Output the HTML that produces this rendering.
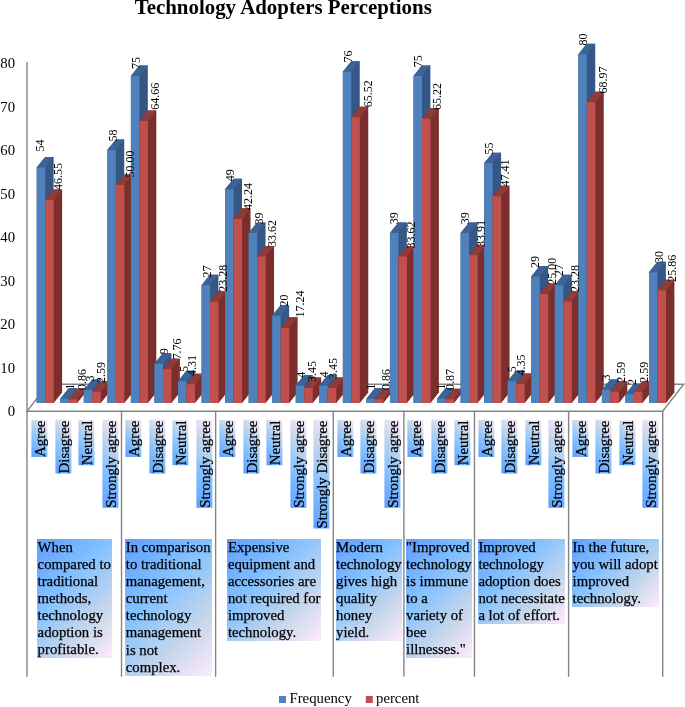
<!DOCTYPE html>
<html><head><meta charset="utf-8"><title>Technology Adopters Perceptions</title>
<style>
html,body{margin:0;padding:0;background:#fff;}
#c{position:relative;width:685px;height:707px;overflow:hidden;background:#fff;font-family:"Liberation Serif",serif;color:#000;}
.tb,.cl{-webkit-text-stroke:0.25px #000;}
.cl span{position:relative;left:-0.5px;}
#c svg{position:absolute;left:0;top:0;}
.cl{position:absolute;top:419.9px;font-size:14.9px;line-height:16.4px;white-space:nowrap;writing-mode:vertical-rl;transform:rotate(180deg);padding:0.3px 0;
background:linear-gradient(225deg,#5e9eff 0%,#85c2ff 39%,#c4d6eb 70%,#ffebfa 100%);}
.tb{position:absolute;top:539px;font-size:14.75px;line-height:17px;padding:0 0 0 0.6px;box-sizing:border-box;white-space:nowrap;
background:linear-gradient(135deg,#5e9eff 0%,#85c2ff 39%,#c4d6eb 70%,#ffebfa 100%);}
</style></head><body>
<div id="c">
<svg width="685" height="707" viewBox="0 0 685 707">
<polygon points="27,411.2 662.71,411.2 683.71,384.2 48,384.2" fill="none" stroke="#858585" stroke-width="1.4" stroke-linejoin="miter"/>
<line x1="27.0" y1="62" x2="27.0" y2="411.2" stroke="#858585" stroke-width="1.4"/>
<line x1="27" y1="411.2" x2="27" y2="676.8" stroke="#858585" stroke-width="1.4"/>
<line x1="121.52" y1="411.2" x2="121.52" y2="676.8" stroke="#858585" stroke-width="1.4"/>
<line x1="215.64" y1="411.2" x2="215.64" y2="676.8" stroke="#858585" stroke-width="1.4"/>
<line x1="333.29" y1="411.2" x2="333.29" y2="676.8" stroke="#858585" stroke-width="1.4"/>
<line x1="403.88" y1="411.2" x2="403.88" y2="676.8" stroke="#858585" stroke-width="1.4"/>
<line x1="474.47" y1="411.2" x2="474.47" y2="676.8" stroke="#858585" stroke-width="1.4"/>
<line x1="568.59" y1="411.2" x2="568.59" y2="676.8" stroke="#858585" stroke-width="1.4"/>
<line x1="662.71" y1="411.2" x2="662.71" y2="676.8" stroke="#858585" stroke-width="1.4"/>
<polygon points="36.7,167.56 45.1,157.06 53.6,157.06 53.6,392.5 45.2,403 36.7,403" fill="#345785"/>
<polygon points="36.7,167.56 45.1,157.06 53.6,157.06 45.2,167.56" fill="#3c6396"/>
<rect x="36.7" y="167.56" width="8.5" height="235.44" fill="#4f81bd"/>
<polygon points="45.2,200.04 53.6,189.54 62.1,189.54 62.1,392.5 53.7,403 45.2,403" fill="#7b2e2c"/>
<polygon points="45.2,200.04 53.6,189.54 62.1,189.54 53.7,200.04" fill="#8f3b39"/>
<rect x="45.2" y="200.04" width="8.5" height="202.96" fill="#c0504d"/>
<polygon points="60.25,398.64 68.65,388.14 77.15,388.14 77.15,392.5 68.75,403 60.25,403" fill="#345785"/>
<polygon points="60.25,398.64 68.65,388.14 77.15,388.14 68.75,398.64" fill="#3c6396"/>
<rect x="60.25" y="398.64" width="8.5" height="4.36" fill="#4f81bd"/>
<polygon points="68.75,399.25 77.15,388.75 85.65,388.75 85.65,392.5 77.25,403 68.75,403" fill="#7b2e2c"/>
<polygon points="68.75,399.25 77.15,388.75 85.65,388.75 77.25,399.25" fill="#8f3b39"/>
<rect x="68.75" y="399.25" width="8.5" height="3.75" fill="#c0504d"/>
<polygon points="83.8,389.92 92.2,379.42 100.7,379.42 100.7,392.5 92.3,403 83.8,403" fill="#345785"/>
<polygon points="83.8,389.92 92.2,379.42 100.7,379.42 92.3,389.92" fill="#3c6396"/>
<rect x="83.8" y="389.92" width="8.5" height="13.08" fill="#4f81bd"/>
<polygon points="92.3,391.71 100.7,381.21 109.2,381.21 109.2,392.5 100.8,403 92.3,403" fill="#7b2e2c"/>
<polygon points="92.3,391.71 100.7,381.21 109.2,381.21 100.8,391.71" fill="#8f3b39"/>
<rect x="92.3" y="391.71" width="8.5" height="11.29" fill="#c0504d"/>
<polygon points="107.35,150.12 115.75,139.62 124.25,139.62 124.25,392.5 115.85,403 107.35,403" fill="#345785"/>
<polygon points="107.35,150.12 115.75,139.62 124.25,139.62 115.85,150.12" fill="#3c6396"/>
<rect x="107.35" y="150.12" width="8.5" height="252.88" fill="#4f81bd"/>
<polygon points="115.85,185 124.25,174.5 132.75,174.5 132.75,392.5 124.35,403 115.85,403" fill="#7b2e2c"/>
<polygon points="115.85,185 124.25,174.5 132.75,174.5 124.35,185" fill="#8f3b39"/>
<rect x="115.85" y="185" width="8.5" height="218" fill="#c0504d"/>
<polygon points="130.9,76 139.3,65.5 147.8,65.5 147.8,392.5 139.4,403 130.9,403" fill="#345785"/>
<polygon points="130.9,76 139.3,65.5 147.8,65.5 139.4,76" fill="#3c6396"/>
<rect x="130.9" y="76" width="8.5" height="327" fill="#4f81bd"/>
<polygon points="139.4,121.08 147.8,110.58 156.3,110.58 156.3,392.5 147.9,403 139.4,403" fill="#7b2e2c"/>
<polygon points="139.4,121.08 147.8,110.58 156.3,110.58 147.9,121.08" fill="#8f3b39"/>
<rect x="139.4" y="121.08" width="8.5" height="281.92" fill="#c0504d"/>
<polygon points="154.45,363.76 162.85,353.26 171.35,353.26 171.35,392.5 162.95,403 154.45,403" fill="#345785"/>
<polygon points="154.45,363.76 162.85,353.26 171.35,353.26 162.95,363.76" fill="#3c6396"/>
<rect x="154.45" y="363.76" width="8.5" height="39.24" fill="#4f81bd"/>
<polygon points="162.95,369.17 171.35,358.67 179.85,358.67 179.85,392.5 171.45,403 162.95,403" fill="#7b2e2c"/>
<polygon points="162.95,369.17 171.35,358.67 179.85,358.67 171.45,369.17" fill="#8f3b39"/>
<rect x="162.95" y="369.17" width="8.5" height="33.83" fill="#c0504d"/>
<polygon points="178,381.2 186.4,370.7 194.9,370.7 194.9,392.5 186.5,403 178,403" fill="#345785"/>
<polygon points="178,381.2 186.4,370.7 194.9,370.7 186.5,381.2" fill="#3c6396"/>
<rect x="178" y="381.2" width="8.5" height="21.8" fill="#4f81bd"/>
<polygon points="186.5,384.21 194.9,373.71 203.4,373.71 203.4,392.5 195,403 186.5,403" fill="#7b2e2c"/>
<polygon points="186.5,384.21 194.9,373.71 203.4,373.71 195,384.21" fill="#8f3b39"/>
<rect x="186.5" y="384.21" width="8.5" height="18.79" fill="#c0504d"/>
<polygon points="201.55,285.28 209.95,274.78 218.45,274.78 218.45,392.5 210.05,403 201.55,403" fill="#345785"/>
<polygon points="201.55,285.28 209.95,274.78 218.45,274.78 210.05,285.28" fill="#3c6396"/>
<rect x="201.55" y="285.28" width="8.5" height="117.72" fill="#4f81bd"/>
<polygon points="210.05,301.5 218.45,291 226.95,291 226.95,392.5 218.55,403 210.05,403" fill="#7b2e2c"/>
<polygon points="210.05,301.5 218.45,291 226.95,291 218.55,301.5" fill="#8f3b39"/>
<rect x="210.05" y="301.5" width="8.5" height="101.5" fill="#c0504d"/>
<polygon points="225.1,189.36 233.5,178.86 242,178.86 242,392.5 233.6,403 225.1,403" fill="#345785"/>
<polygon points="225.1,189.36 233.5,178.86 242,178.86 233.6,189.36" fill="#3c6396"/>
<rect x="225.1" y="189.36" width="8.5" height="213.64" fill="#4f81bd"/>
<polygon points="233.6,218.83 242,208.33 250.5,208.33 250.5,392.5 242.1,403 233.6,403" fill="#7b2e2c"/>
<polygon points="233.6,218.83 242,208.33 250.5,208.33 242.1,218.83" fill="#8f3b39"/>
<rect x="233.6" y="218.83" width="8.5" height="184.17" fill="#c0504d"/>
<polygon points="248.65,232.96 257.05,222.46 265.55,222.46 265.55,392.5 257.15,403 248.65,403" fill="#345785"/>
<polygon points="248.65,232.96 257.05,222.46 265.55,222.46 257.15,232.96" fill="#3c6396"/>
<rect x="248.65" y="232.96" width="8.5" height="170.04" fill="#4f81bd"/>
<polygon points="257.15,256.42 265.55,245.92 274.05,245.92 274.05,392.5 265.65,403 257.15,403" fill="#7b2e2c"/>
<polygon points="257.15,256.42 265.55,245.92 274.05,245.92 265.65,256.42" fill="#8f3b39"/>
<rect x="257.15" y="256.42" width="8.5" height="146.58" fill="#c0504d"/>
<polygon points="272.2,315.8 280.6,305.3 289.1,305.3 289.1,392.5 280.7,403 272.2,403" fill="#345785"/>
<polygon points="272.2,315.8 280.6,305.3 289.1,305.3 280.7,315.8" fill="#3c6396"/>
<rect x="272.2" y="315.8" width="8.5" height="87.2" fill="#4f81bd"/>
<polygon points="280.7,327.83 289.1,317.33 297.6,317.33 297.6,392.5 289.2,403 280.7,403" fill="#7b2e2c"/>
<polygon points="280.7,327.83 289.1,317.33 297.6,317.33 289.2,327.83" fill="#8f3b39"/>
<rect x="280.7" y="327.83" width="8.5" height="75.17" fill="#c0504d"/>
<polygon points="295.75,385.56 304.15,375.06 312.65,375.06 312.65,392.5 304.25,403 295.75,403" fill="#345785"/>
<polygon points="295.75,385.56 304.15,375.06 312.65,375.06 304.25,385.56" fill="#3c6396"/>
<rect x="295.75" y="385.56" width="8.5" height="17.44" fill="#4f81bd"/>
<polygon points="304.25,387.96 312.65,377.46 321.15,377.46 321.15,392.5 312.75,403 304.25,403" fill="#7b2e2c"/>
<polygon points="304.25,387.96 312.65,377.46 321.15,377.46 312.75,387.96" fill="#8f3b39"/>
<rect x="304.25" y="387.96" width="8.5" height="15.04" fill="#c0504d"/>
<polygon points="319.3,385.56 327.7,375.06 336.2,375.06 336.2,392.5 327.8,403 319.3,403" fill="#345785"/>
<polygon points="319.3,385.56 327.7,375.06 336.2,375.06 327.8,385.56" fill="#3c6396"/>
<rect x="319.3" y="385.56" width="8.5" height="17.44" fill="#4f81bd"/>
<polygon points="327.8,387.96 336.2,377.46 344.7,377.46 344.7,392.5 336.3,403 327.8,403" fill="#7b2e2c"/>
<polygon points="327.8,387.96 336.2,377.46 344.7,377.46 336.3,387.96" fill="#8f3b39"/>
<rect x="327.8" y="387.96" width="8.5" height="15.04" fill="#c0504d"/>
<polygon points="342.85,71.64 351.25,61.14 359.75,61.14 359.75,392.5 351.35,403 342.85,403" fill="#345785"/>
<polygon points="342.85,71.64 351.25,61.14 359.75,61.14 351.35,71.64" fill="#3c6396"/>
<rect x="342.85" y="71.64" width="8.5" height="331.36" fill="#4f81bd"/>
<polygon points="351.35,117.33 359.75,106.83 368.25,106.83 368.25,392.5 359.85,403 351.35,403" fill="#7b2e2c"/>
<polygon points="351.35,117.33 359.75,106.83 368.25,106.83 359.85,117.33" fill="#8f3b39"/>
<rect x="351.35" y="117.33" width="8.5" height="285.67" fill="#c0504d"/>
<polygon points="366.4,398.64 374.8,388.14 383.3,388.14 383.3,392.5 374.9,403 366.4,403" fill="#345785"/>
<polygon points="366.4,398.64 374.8,388.14 383.3,388.14 374.9,398.64" fill="#3c6396"/>
<rect x="366.4" y="398.64" width="8.5" height="4.36" fill="#4f81bd"/>
<polygon points="374.9,399.25 383.3,388.75 391.8,388.75 391.8,392.5 383.4,403 374.9,403" fill="#7b2e2c"/>
<polygon points="374.9,399.25 383.3,388.75 391.8,388.75 383.4,399.25" fill="#8f3b39"/>
<rect x="374.9" y="399.25" width="8.5" height="3.75" fill="#c0504d"/>
<polygon points="389.95,232.96 398.35,222.46 406.85,222.46 406.85,392.5 398.45,403 389.95,403" fill="#345785"/>
<polygon points="389.95,232.96 398.35,222.46 406.85,222.46 398.45,232.96" fill="#3c6396"/>
<rect x="389.95" y="232.96" width="8.5" height="170.04" fill="#4f81bd"/>
<polygon points="398.45,256.42 406.85,245.92 415.35,245.92 415.35,392.5 406.95,403 398.45,403" fill="#7b2e2c"/>
<polygon points="398.45,256.42 406.85,245.92 415.35,245.92 406.95,256.42" fill="#8f3b39"/>
<rect x="398.45" y="256.42" width="8.5" height="146.58" fill="#c0504d"/>
<polygon points="413.5,76 421.9,65.5 430.4,65.5 430.4,392.5 422,403 413.5,403" fill="#345785"/>
<polygon points="413.5,76 421.9,65.5 430.4,65.5 422,76" fill="#3c6396"/>
<rect x="413.5" y="76" width="8.5" height="327" fill="#4f81bd"/>
<polygon points="422,118.64 430.4,108.14 438.9,108.14 438.9,392.5 430.5,403 422,403" fill="#7b2e2c"/>
<polygon points="422,118.64 430.4,108.14 438.9,108.14 430.5,118.64" fill="#8f3b39"/>
<rect x="422" y="118.64" width="8.5" height="284.36" fill="#c0504d"/>
<polygon points="437.05,398.64 445.45,388.14 453.95,388.14 453.95,392.5 445.55,403 437.05,403" fill="#345785"/>
<polygon points="437.05,398.64 445.45,388.14 453.95,388.14 445.55,398.64" fill="#3c6396"/>
<rect x="437.05" y="398.64" width="8.5" height="4.36" fill="#4f81bd"/>
<polygon points="445.55,399.21 453.95,388.71 462.45,388.71 462.45,392.5 454.05,403 445.55,403" fill="#7b2e2c"/>
<polygon points="445.55,399.21 453.95,388.71 462.45,388.71 454.05,399.21" fill="#8f3b39"/>
<rect x="445.55" y="399.21" width="8.5" height="3.79" fill="#c0504d"/>
<polygon points="460.6,232.96 469,222.46 477.5,222.46 477.5,392.5 469.1,403 460.6,403" fill="#345785"/>
<polygon points="460.6,232.96 469,222.46 477.5,222.46 469.1,232.96" fill="#3c6396"/>
<rect x="460.6" y="232.96" width="8.5" height="170.04" fill="#4f81bd"/>
<polygon points="469.1,255.15 477.5,244.65 486,244.65 486,392.5 477.6,403 469.1,403" fill="#7b2e2c"/>
<polygon points="469.1,255.15 477.5,244.65 486,244.65 477.6,255.15" fill="#8f3b39"/>
<rect x="469.1" y="255.15" width="8.5" height="147.85" fill="#c0504d"/>
<polygon points="484.15,163.2 492.55,152.7 501.05,152.7 501.05,392.5 492.65,403 484.15,403" fill="#345785"/>
<polygon points="484.15,163.2 492.55,152.7 501.05,152.7 492.65,163.2" fill="#3c6396"/>
<rect x="484.15" y="163.2" width="8.5" height="239.8" fill="#4f81bd"/>
<polygon points="492.65,196.29 501.05,185.79 509.55,185.79 509.55,392.5 501.15,403 492.65,403" fill="#7b2e2c"/>
<polygon points="492.65,196.29 501.05,185.79 509.55,185.79 501.15,196.29" fill="#8f3b39"/>
<rect x="492.65" y="196.29" width="8.5" height="206.71" fill="#c0504d"/>
<polygon points="507.7,381.2 516.1,370.7 524.6,370.7 524.6,392.5 516.2,403 507.7,403" fill="#345785"/>
<polygon points="507.7,381.2 516.1,370.7 524.6,370.7 516.2,381.2" fill="#3c6396"/>
<rect x="507.7" y="381.2" width="8.5" height="21.8" fill="#4f81bd"/>
<polygon points="516.2,384.03 524.6,373.53 533.1,373.53 533.1,392.5 524.7,403 516.2,403" fill="#7b2e2c"/>
<polygon points="516.2,384.03 524.6,373.53 533.1,373.53 524.7,384.03" fill="#8f3b39"/>
<rect x="516.2" y="384.03" width="8.5" height="18.97" fill="#c0504d"/>
<polygon points="531.25,276.56 539.65,266.06 548.15,266.06 548.15,392.5 539.75,403 531.25,403" fill="#345785"/>
<polygon points="531.25,276.56 539.65,266.06 548.15,266.06 539.75,276.56" fill="#3c6396"/>
<rect x="531.25" y="276.56" width="8.5" height="126.44" fill="#4f81bd"/>
<polygon points="539.75,294 548.15,283.5 556.65,283.5 556.65,392.5 548.25,403 539.75,403" fill="#7b2e2c"/>
<polygon points="539.75,294 548.15,283.5 556.65,283.5 548.25,294" fill="#8f3b39"/>
<rect x="539.75" y="294" width="8.5" height="109" fill="#c0504d"/>
<polygon points="554.8,285.28 563.2,274.78 571.7,274.78 571.7,392.5 563.3,403 554.8,403" fill="#345785"/>
<polygon points="554.8,285.28 563.2,274.78 571.7,274.78 563.3,285.28" fill="#3c6396"/>
<rect x="554.8" y="285.28" width="8.5" height="117.72" fill="#4f81bd"/>
<polygon points="563.3,301.5 571.7,291 580.2,291 580.2,392.5 571.8,403 563.3,403" fill="#7b2e2c"/>
<polygon points="563.3,301.5 571.7,291 580.2,291 571.8,301.5" fill="#8f3b39"/>
<rect x="563.3" y="301.5" width="8.5" height="101.5" fill="#c0504d"/>
<polygon points="578.35,54.2 586.75,43.7 595.25,43.7 595.25,392.5 586.85,403 578.35,403" fill="#345785"/>
<polygon points="578.35,54.2 586.75,43.7 595.25,43.7 586.85,54.2" fill="#3c6396"/>
<rect x="578.35" y="54.2" width="8.5" height="348.8" fill="#4f81bd"/>
<polygon points="586.85,102.29 595.25,91.79 603.75,91.79 603.75,392.5 595.35,403 586.85,403" fill="#7b2e2c"/>
<polygon points="586.85,102.29 595.25,91.79 603.75,91.79 595.35,102.29" fill="#8f3b39"/>
<rect x="586.85" y="102.29" width="8.5" height="300.71" fill="#c0504d"/>
<polygon points="601.9,389.92 610.3,379.42 618.8,379.42 618.8,392.5 610.4,403 601.9,403" fill="#345785"/>
<polygon points="601.9,389.92 610.3,379.42 618.8,379.42 610.4,389.92" fill="#3c6396"/>
<rect x="601.9" y="389.92" width="8.5" height="13.08" fill="#4f81bd"/>
<polygon points="610.4,391.71 618.8,381.21 627.3,381.21 627.3,392.5 618.9,403 610.4,403" fill="#7b2e2c"/>
<polygon points="610.4,391.71 618.8,381.21 627.3,381.21 618.9,391.71" fill="#8f3b39"/>
<rect x="610.4" y="391.71" width="8.5" height="11.29" fill="#c0504d"/>
<polygon points="625.45,394.28 633.85,383.78 642.35,383.78 642.35,392.5 633.95,403 625.45,403" fill="#345785"/>
<polygon points="625.45,394.28 633.85,383.78 642.35,383.78 633.95,394.28" fill="#3c6396"/>
<rect x="625.45" y="394.28" width="8.5" height="8.72" fill="#4f81bd"/>
<polygon points="633.95,391.71 642.35,381.21 650.85,381.21 650.85,392.5 642.45,403 633.95,403" fill="#7b2e2c"/>
<polygon points="633.95,391.71 642.35,381.21 650.85,381.21 642.45,391.71" fill="#8f3b39"/>
<rect x="633.95" y="391.71" width="8.5" height="11.29" fill="#c0504d"/>
<polygon points="649,272.2 657.4,261.7 665.9,261.7 665.9,392.5 657.5,403 649,403" fill="#345785"/>
<polygon points="649,272.2 657.4,261.7 665.9,261.7 657.5,272.2" fill="#3c6396"/>
<rect x="649" y="272.2" width="8.5" height="130.8" fill="#4f81bd"/>
<polygon points="657.5,290.25 665.9,279.75 674.4,279.75 674.4,392.5 666,403 657.5,403" fill="#7b2e2c"/>
<polygon points="657.5,290.25 665.9,279.75 674.4,279.75 666,290.25" fill="#8f3b39"/>
<rect x="657.5" y="290.25" width="8.5" height="112.75" fill="#c0504d"/>
<g font-family="Liberation Serif, serif" font-size="12" fill="#000">
<text transform="translate(43.65,151.4) rotate(-90)">54</text>
<text transform="translate(61.85,189.9) rotate(-90)">46.55</text>
<text transform="translate(73.75,389.8) rotate(-90)">1</text>
<text transform="translate(85.75,390.1) rotate(-90)">0.86</text>
<text transform="translate(93.55,381.5) rotate(-90)">3</text>
<text transform="translate(104.65,383) rotate(-90)">2.59</text>
<text transform="translate(116.75,141.4) rotate(-90)">58</text>
<text transform="translate(134.05,177.6) rotate(-90)">50.00</text>
<text transform="translate(140.45,69) rotate(-90)">75</text>
<text transform="translate(158.95,109.7) rotate(-90)">64.66</text>
<text transform="translate(167.95,354.2) rotate(-90)">9</text>
<text transform="translate(181.05,359.6) rotate(-90)">7.76</text>
<text transform="translate(187.55,372) rotate(-90)">5</text>
<text transform="translate(195.95,376) rotate(-90)">4.31</text>
<text transform="translate(210.95,277.6) rotate(-90)">27</text>
<text transform="translate(227.45,291.8) rotate(-90)">23.28</text>
<text transform="translate(233.65,181.3) rotate(-90)">49</text>
<text transform="translate(252.05,210) rotate(-90)">42.24</text>
<text transform="translate(263.15,224.6) rotate(-90)">39</text>
<text transform="translate(276.45,247.1) rotate(-90)">33.62</text>
<text transform="translate(287.85,306.4) rotate(-90)">20</text>
<text transform="translate(304.45,317.5) rotate(-90)">17.24</text>
<text transform="translate(304.65,377.7) rotate(-90)">4</text>
<text transform="translate(316.15,381.9) rotate(-90)">3.45</text>
<text transform="translate(328.05,377.5) rotate(-90)">4</text>
<text transform="translate(336.55,378.9) rotate(-90)">3.45</text>
<text transform="translate(351.55,62.6) rotate(-90)">76</text>
<text transform="translate(372.05,107.2) rotate(-90)">65.52</text>
<text transform="translate(375.15,389.8) rotate(-90)">1</text>
<text transform="translate(389.55,390) rotate(-90)">0.86</text>
<text transform="translate(398.25,224.3) rotate(-90)">39</text>
<text transform="translate(414.85,248.5) rotate(-90)">33.62</text>
<text transform="translate(421.85,67.3) rotate(-90)">75</text>
<text transform="translate(441.45,109.9) rotate(-90)">65.22</text>
<text transform="translate(445.15,389.8) rotate(-90)">1</text>
<text transform="translate(454.05,390) rotate(-90)">0.87</text>
<text transform="translate(468.95,224.3) rotate(-90)">39</text>
<text transform="translate(485.05,247) rotate(-90)">33.91</text>
<text transform="translate(492.65,154.4) rotate(-90)">55</text>
<text transform="translate(509.05,186.5) rotate(-90)">47.41</text>
<text transform="translate(515.85,372.2) rotate(-90)">5</text>
<text transform="translate(525.25,375.6) rotate(-90)">4.35</text>
<text transform="translate(539.35,268) rotate(-90)">29</text>
<text transform="translate(555.55,284.7) rotate(-90)">25.00</text>
<text transform="translate(562.55,276.3) rotate(-90)">27</text>
<text transform="translate(578.85,292.1) rotate(-90)">23.28</text>
<text transform="translate(586.75,45.6) rotate(-90)">80</text>
<text transform="translate(607.05,93.4) rotate(-90)">68.97</text>
<text transform="translate(610.15,380.6) rotate(-90)">3</text>
<text transform="translate(624.55,382.8) rotate(-90)">2.59</text>
<text transform="translate(635.75,384.9) rotate(-90)">2</text>
<text transform="translate(648.05,382.7) rotate(-90)">2.59</text>
<text transform="translate(663.05,263) rotate(-90)">30</text>
<text transform="translate(676.45,281.7) rotate(-90)">25.86</text>
</g>
<g font-family="Liberation Serif, serif" font-size="14.75" fill="#000" text-anchor="end">
<text x="15" y="416.3">0</text>
<text x="15" y="372.8">10</text>
<text x="15" y="329.3">20</text>
<text x="15" y="285.8">30</text>
<text x="15" y="242.3">40</text>
<text x="15" y="198.8">50</text>
<text x="15" y="155.3">60</text>
<text x="15" y="111.8">70</text>
<text x="15" y="68.3">80</text>
</g>
<text x="134.7" y="14" font-family="Liberation Serif, serif" font-weight="bold" font-size="20.9" fill="#000">Technology Adopters Perceptions</text>
<rect x="279" y="696" width="7" height="7" fill="#4f81bd"/>
<text x="289.5" y="703.2" font-family="Liberation Serif, serif" font-size="14.75" fill="#000">Frequency</text>
<rect x="365.8" y="696" width="7" height="7" fill="#c0504d"/>
<text x="376" y="703.2" font-family="Liberation Serif, serif" font-size="14.75" fill="#000">percent</text>
</svg>
<div class="tb" style="left:37px;width:74.8px">When<br>compared to<br>traditional<br>methods,<br>technology<br>adoption is<br>profitable.</div>
<div class="tb" style="left:125.2px;width:86.6px;line-height:17.1px">In comparison<br>to traditional<br>management,<br>current<br>technology<br>management<br>is not<br>complex.</div>
<div class="tb" style="left:227.3px;width:94px">Expensive<br>equipment and<br>accessories are<br>not required for<br>improved<br>technology.</div>
<div class="tb" style="left:335.5px;width:66.1px">Modern<br>technology<br>gives high<br>quality<br>honey<br>yield.</div>
<div class="tb" style="left:405.5px;width:66.8px">"Improved<br>technology<br>is immune<br>to a<br>variety of<br>bee<br>illnesses."</div>
<div class="tb" style="left:477.8px;width:87px">Improved<br>technology<br>adoption does<br>not necessitate<br>a lot of effort.</div>
<div class="tb" style="left:572px;width:87px">In the future,<br>you will adopt<br>improved<br>technology.</div>
<div class="cl" style="left:31px"><span>Agree</span></div>
<div class="cl" style="left:54.51px"><span>Disagree</span></div>
<div class="cl" style="left:78.02px"><span>Neutral</span></div>
<div class="cl" style="left:101.53px"><span>Strongly agree</span></div>
<div class="cl" style="left:125.04px"><span>Agree</span></div>
<div class="cl" style="left:148.55px"><span>Disagree</span></div>
<div class="cl" style="left:172.06px"><span>Neutral</span></div>
<div class="cl" style="left:195.57px"><span>Strongly agree</span></div>
<div class="cl" style="left:219.08px"><span>Agree</span></div>
<div class="cl" style="left:242.59px"><span>Disagree</span></div>
<div class="cl" style="left:266.1px"><span>Neutral</span></div>
<div class="cl" style="left:289.61px"><span>Strongly agree</span></div>
<div class="cl" style="left:313.12px"><span>Strongly Disagree</span></div>
<div class="cl" style="left:336.63px"><span>Agree</span></div>
<div class="cl" style="left:360.14px"><span>Disagree</span></div>
<div class="cl" style="left:383.65px"><span>Strongly agree</span></div>
<div class="cl" style="left:407.16px"><span>Agree</span></div>
<div class="cl" style="left:430.67px"><span>Disagree</span></div>
<div class="cl" style="left:454.18px"><span>Neutral</span></div>
<div class="cl" style="left:477.69px"><span>Agree</span></div>
<div class="cl" style="left:501.2px"><span>Disagree</span></div>
<div class="cl" style="left:524.71px"><span>Neutral</span></div>
<div class="cl" style="left:548.22px"><span>Strongly agree</span></div>
<div class="cl" style="left:571.73px"><span>Agree</span></div>
<div class="cl" style="left:595.24px"><span>Disagree</span></div>
<div class="cl" style="left:618.75px"><span>Neutral</span></div>
<div class="cl" style="left:642.26px"><span>Strongly agree</span></div>
</div>
</body></html>
